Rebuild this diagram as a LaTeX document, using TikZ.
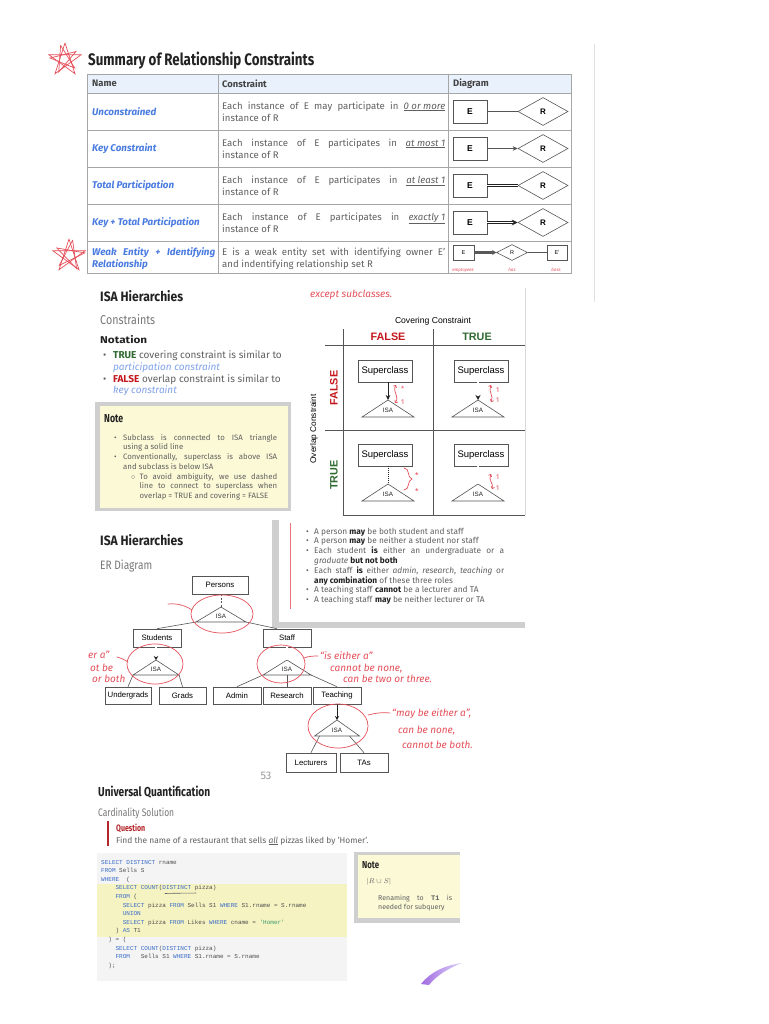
\documentclass[tikz,border=0pt]{standalone}
\usepackage{fontspec}
\setmainfont{Fira Sans}
\newfontfamily\arialf{Liberation Sans}
\setmonofont{Liberation Mono}
\usepackage{graphicx}
\usepackage{xcolor}
\usepackage{tikz}
\usetikzlibrary{arrows.meta,shapes.geometric}
\definecolor{Ink}{HTML}{222222}
\definecolor{Txt}{HTML}{606060}
\definecolor{Sub}{HTML}{777777}
\definecolor{TblLine}{HTML}{A6A6A6}
\definecolor{HdrFill}{HTML}{E8F1FC}
\definecolor{NameBlue}{HTML}{4A7BE0}
\definecolor{LinkBlue}{HTML}{7FA2EA}
\definecolor{BoxLine}{HTML}{555555}
\definecolor{TrueGreen}{HTML}{2F6A31}
\definecolor{FalseRed}{HTML}{C4161C}
\definecolor{Pen}{HTML}{E5505A}
\definecolor{NoteYel}{HTML}{FBF9D6}
\definecolor{NoteFrame}{HTML}{CFCFCF}
\definecolor{CodeBg}{HTML}{F4F4F4}
\definecolor{CodeHl}{HTML}{F6F3C2}
\definecolor{KwBlue}{HTML}{3A6CC8}
\definecolor{StrGreen}{HTML}{3C9A6E}
\definecolor{QRed}{HTML}{B3262B}
\definecolor{SwA}{HTML}{A36BE0}
\definecolor{SwB}{HTML}{DAD4FA}
\newcommand{\kw}[1]{\textcolor{KwBlue}{#1}}
% ISA triangle: name, apex x, apex y, half base, height
\newcommand{\isatri}[5]{%
  \coordinate (#1-t) at (#2,#3);
  \coordinate (#1-l) at ({#2-#4},{#3+#5});
  \coordinate (#1-r) at ({#2+#4},{#3+#5});
  \coordinate (#1-b) at (#2,{#3+#5});
  \draw[isaline] (#1-t) -- (#1-l) -- (#1-r) -- cycle;
  \node[isatxt] (#1) at (#2,{#3+0.62*#5}) {ISA};
}

\begin{document}
\begin{tikzpicture}[x=1pt,y=-1pt,
  tbl/.style={draw=TblLine,line width=0.7pt},
  ent/.style={draw=BoxLine,fill=white,line width=0.6pt,inner sep=0pt,minimum width=48pt,minimum height=18pt,font=\arialf\fontsize{7.8}{9}\selectfont},
  sup/.style={ent,minimum width=54pt,minimum height=22pt,font=\arialf\fontsize{9.5}{10}\selectfont},
  rel/.style={diamond,draw=BoxLine,fill=white,line width=0.6pt,inner sep=0pt,minimum width=50pt,minimum height=28pt,font=\arialf\bfseries\fontsize{8}{9}\selectfont},
  isaline/.style={draw=BoxLine,line width=0.6pt},
  isatxt/.style={inner sep=0pt,font=\arialf\fontsize{6.3}{7}\selectfont,text=Ink},
  tot/.style={draw=Ink,double=white,double distance=1.1pt,line width=0.8pt},
  hand/.style={draw=Pen,line width=0.7pt,line cap=round},
  handtxt/.style={text=Pen,inner sep=0pt,anchor=base west,font=\itshape\fontsize{10}{10}\selectfont},
  txt/.style={inner sep=0pt,anchor=base west,text=Txt},
  ttl/.style={inner sep=0pt,anchor=base west,text=Ink},
  nm/.style={inner sep=0pt,anchor=west,align=left,text=NameBlue,font=\bfseries\itshape\fontsize{9.8}{12}\selectfont},
  cons/.style={inner sep=0pt,anchor=west,align=left,text=Txt,font=\fontsize{9.6}{12}\selectfont},
  code/.style={inner sep=0pt,anchor=base west,text=Ink!80,font=\ttfamily\fontsize{6}{6}\selectfont}]
  \fill[white] (0,0) rectangle (768,1024);
  \useasboundingbox (0,0) rectangle (768,1024);

  % ---------- summary table ----------
  \draw[hand] plot[samples at={0,...,5}] ({65+17*cos(90+144*\x)},{60-17*sin(90+144*\x)});
  \draw[hand] plot[samples at={0,...,5}] ({64+14*cos(104+144*\x)},{59-14*sin(104+144*\x)});
  \node[ttl] (tSum) at (88,66) {\resizebox{226pt}{13.5pt}{\bfseries Summary of Relationship Constraints}};
  \fill[HdrFill] (87,74) rectangle (571,93);
  \foreach \yy in {93,130,167,204,241}
    \draw[tbl] (87,\yy) -- (571,\yy);
  \draw[tbl] (87,74) rectangle (571,273);
  \draw[tbl] (218,74) -- (218,273);
  \draw[tbl] (448,74) -- (448,273);
  \node[inner sep=0pt,anchor=west,font=\bfseries\fontsize{9.4}{10}\selectfont,text=Ink!85] (hName) at (92,83.5) {Name};
  \node[inner sep=0pt,anchor=west,font=\bfseries\fontsize{9.4}{10}\selectfont,text=Ink!85] (hCons) at (222,83.5) {Constraint};
  \node[inner sep=0pt,anchor=west,font=\bfseries\fontsize{9.4}{10}\selectfont,text=Ink!85] (hDiag) at (453,83.5) {Diagram};
  \foreach \i/\yy/\nmt/\vb/\amt in {
      1/111.5/Unconstrained/may participate in/0 or more,
      2/148.5/Key Constraint/participates in/at most 1,
      3/185.5/Total Participation/participates in/at least 1,
      4/222.5/Key + Total Participation/participates in/exactly 1} {
    \node[nm] (nm\i) at (92,\yy) {\nmt};
    \node[cons] (cs\i) at (222,\yy) {\makebox[223pt][s]{Each instance of E \vb{} \underline{\textit{\amt}}}\\instance of R};
    \node[ent,minimum width=34pt,minimum height=23pt,font=\arialf\bfseries\fontsize{8.5}{9}\selectfont] (e\i) at (470,\yy) {E};
    \node[rel] (r\i) at (543,\yy) {R};
  }
  \draw[BoxLine,line width=0.6pt] (e1) -- (r1);
  \draw[BoxLine,line width=0.6pt,-{Stealth[length=5pt,width=4.5pt]}] (e2) -- (r2);
  \draw[tot] (e3) -- (r3);
  \draw[tot,-{Stealth[length=6pt,width=6pt]}] (e4) -- (r4);
  \node[nm] (nm5) at (92,258.5) {\makebox[123pt][s]{Weak Entity + Identifying}\\Relationship};
  \node[cons] (cs5) at (222,258.5) {\makebox[223pt][s]{E is a weak entity set with identifying owner E'}\\and indentifying relationship set R};
  \node[ent,minimum width=21pt,minimum height=15pt,font=\arialf\fontsize{5.5}{6}\selectfont] (ew) at (463.5,252.5) {E};
  \node[rel,minimum width=31pt,minimum height=16pt,font=\arialf\fontsize{5.5}{6}\selectfont] (rw) at (512,252.5) {R};
  \node[ent,minimum width=20pt,minimum height=15pt,font=\arialf\fontsize{5.5}{6}\selectfont] (eo) at (557,252.5) {E'};
  \draw[Ink!75,line width=2.2pt,-{Stealth[length=4pt,width=5pt]}] (ew) -- (rw);
  \draw[BoxLine,line width=0.5pt] (rw) -- (eo);
  \node[text=Pen,inner sep=0pt,font=\itshape\fontsize{4.5}{5}\selectfont] (hEmp) at (463,270) {employees};
  \node[text=Pen,inner sep=0pt,font=\itshape\fontsize{4.5}{5}\selectfont] (hHas) at (512,270) {has};
  \node[text=Pen,inner sep=0pt,font=\itshape\fontsize{4.5}{5}\selectfont] (hBoss) at (556,270) {boss};
  \draw[hand] plot[samples at={0,...,5}] ({69+17*cos(90+144*\x)},{256-17*sin(90+144*\x)});
  \draw[hand] plot[samples at={0,...,5}] ({70+15*cos(80+144*\x)},{255-15*sin(80+144*\x)});
  \draw[black!12,line width=0.7pt] (594,44) -- (594,302);

  % ---------- ISA constraints ----------
  \node[ttl] (tIsa) at (100,301) {\resizebox{83pt}{11pt}{\bfseries ISA Hierarchies}};
  \node[ttl,text=Sub] (tCons) at (100,324) {\resizebox{55pt}{10pt}{Constraints}};
  \node[ttl] (tNot) at (100,343) {\resizebox{47pt}{8pt}{\bfseries Notation}};
  \begin{scope}[font=\fontsize{10}{10}\selectfont]
    \node[txt] (nb1) at (103,358) {\textbullet};
    \node[txt] (n1) at (113,358) {\textbf{\textcolor{TrueGreen}{TRUE}} covering constraint is similar to};
    \node[txt,text=LinkBlue] (n2) at (113,370) {\textit{participation constraint}};
    \node[txt] (nb3) at (103,382) {\textbullet};
    \node[txt] (n3) at (113,382) {\textbf{\textcolor{FalseRed}{FALSE}} overlap constraint is similar to};
    \node[txt,text=LinkBlue] (n4) at (113,393.5) {\textit{key constraint}};
  \end{scope}
  \fill[NoteFrame] (95,402) rectangle (291,511);
  \fill[NoteYel] (100,406) rectangle (288,508);
  \node[ttl] (tNote) at (104,422) {\resizebox{19pt}{8pt}{\bfseries Note}};
  \begin{scope}[font=\fontsize{7.8}{8}\selectfont]
    \node[txt] (kb1) at (114,440) {\textbullet};
    \node[txt] (k1) at (123,440) {\makebox[154pt][s]{Subclass is connected to ISA triangle}};
    \node[txt] (k2) at (123,449.5) {using a solid line};
    \node[txt] (kb3) at (114,459.5) {\textbullet};
    \node[txt] (k3) at (123,459.5) {\makebox[154pt][s]{Conventionally, superclass is above ISA}};
    \node[txt] (k4) at (123,469) {and subclass is below ISA};
    \node[txt] (kb5) at (131,479) {$\circ$};
    \node[txt] (k5) at (139.5,479) {\makebox[137.5pt][s]{To avoid ambiguity, we use dashed}};
    \node[txt] (k6) at (139.5,488.5) {\makebox[137.5pt][s]{line to connect to superclass when}};
    \node[txt] (k7) at (139.5,498) {overlap = TRUE and covering = FALSE};
  \end{scope}

  % covering / overlap matrix
  \node[handtxt] (hExc) at (310,297) {except subclasses.};
  \draw[black!15,line width=0.6pt] (525,288) -- (525,515);
  \node[inner sep=0pt,font=\arialf\fontsize{8.6}{9}\selectfont] (cov) at (433,321) {Covering Constraint};
  \draw[BoxLine,line width=0.8pt] (343,329) -- (343,515);
  \draw[BoxLine,line width=0.8pt] (433,329) -- (433,515);
  \draw[BoxLine,line width=0.8pt] (325,345) -- (525,345);
  \draw[BoxLine,line width=0.8pt] (325,430) -- (525,430);
  \draw[BoxLine,line width=0.8pt] (343,515) -- (525,515);
  \node[inner sep=0pt,text=FalseRed,font=\arialf\bfseries\fontsize{10.8}{11}\selectfont] (cF) at (388,337) {FALSE};
  \node[inner sep=0pt,text=TrueGreen,font=\arialf\bfseries\fontsize{10.8}{11}\selectfont] (cT) at (477,337) {TRUE};
  \node[inner sep=0pt,rotate=90,text=FalseRed,font=\arialf\bfseries\fontsize{10.8}{11}\selectfont] (oF) at (334,388) {FALSE};
  \node[inner sep=0pt,rotate=90,text=TrueGreen,font=\arialf\bfseries\fontsize{10.8}{11}\selectfont] (oT) at (334,475) {TRUE};
  \node[inner sep=0pt,rotate=90,font=\arialf\fontsize{8.3}{9}\selectfont] (ovl) at (314,429) {Overlap Constraint};
  \node[sup] (supFF) at (385,371) {Superclass};
  \isatri{isaFF}{388}{400}{26}{17}
  \draw[Ink,line width=0.6pt,-{Stealth[length=5pt,width=4.5pt]}] (isaFF-t |- supFF.south) -- (isaFF-t);
  \node[sup] (supFT) at (481,371) {Superclass};
  \isatri{isaFT}{478}{400}{26}{17}
  \draw[tot,-{Stealth[length=5pt,width=5pt]}] (isaFT-t |- supFT.south) -- (isaFT-t);
  \node[sup] (supTF) at (385,455) {Superclass};
  \isatri{isaTF}{388}{484}{26}{17}
  \draw[Ink,line width=0.6pt,dash pattern=on 1pt off 1pt] (isaTF-t |- supTF.south) -- (isaTF-t);
  \node[sup] (supTT) at (481,455) {Superclass};
  \isatri{isaTT}{478}{484}{26}{17}
  \draw[tot] (isaTT-t |- supTT.south) -- (isaTT-t);
  % pen marks in the cells
  \draw[hand,{Straight Barb[length=1.8pt]}-{Straight Barb[length=1.8pt]}] (396,385) .. controls (392,392) and (400,396) .. (395,403);
  \node[handtxt,font=\fontsize{7}{7}\selectfont] (mFF1) at (401,391) {*};
  \node[handtxt,font=\fontsize{7}{7}\selectfont] (mFF2) at (401,404) {1};
  \draw[hand,{Straight Barb[length=1.8pt]}-{Straight Barb[length=1.8pt]}] (491,385) .. controls (488,392) and (494,396) .. (491,402);
  \node[handtxt,font=\fontsize{7}{7}\selectfont] (mFT1) at (496,392) {1};
  \node[handtxt,font=\fontsize{7}{7}\selectfont] (mFT2) at (496,402) {1};
  \draw[hand] (404,468) .. controls (410,468) and (407,478) .. (412,479) .. controls (407,480) and (410,490) .. (404,490);
  \node[handtxt,font=\fontsize{8}{8}\selectfont] (mTF1) at (415,478) {*};
  \node[handtxt,font=\fontsize{8}{8}\selectfont] (mTF2) at (415,494) {*};
  \draw[hand,{Straight Barb[length=1.8pt]}-{Straight Barb[length=1.8pt]}] (491,474) .. controls (488,480) and (494,484) .. (492,489);
  \node[handtxt,font=\fontsize{7}{7}\selectfont] (mTT1) at (496,479) {1};
  \node[handtxt,font=\fontsize{7}{7}\selectfont] (mTT2) at (496,490) {1};

  % ---------- ER diagram ----------
  \fill[NoteFrame] (272,520) rectangle (279,628);
  \fill[NoteFrame] (272,622) rectangle (525,628);
  \draw[Pen!80,line width=0.8pt] (290,523) -- (290,609);
  \begin{scope}[font=\fontsize{8.3}{8}\selectfont]
    \foreach \yy [count=\k] in {534,543.8,553.6,573.2,592.8,602.6}
      \node[txt] (pb\k) at (306,\yy) {\textbullet};
    \node[txt] (p1) at (314,534) {A person \textbf{\textcolor{Ink}{may}} be both student and staff};
    \node[txt] (p2) at (314,543.8) {A person \textbf{\textcolor{Ink}{may}} be neither a student nor staff};
    \node[txt] (p3) at (314,553.6) {\makebox[190pt][s]{Each student \textbf{\textcolor{Ink}{is}} either an undergraduate or a}};
    \node[txt] (p4) at (314,563.4) {\textit{graduate} \textbf{\textcolor{Ink}{but not both}}};
    \node[txt] (p5) at (314,573.2) {\makebox[190pt][s]{Each staff \textbf{\textcolor{Ink}{is}} either \textit{admin}, \textit{research}, \textit{teaching} or}};
    \node[txt] (p6) at (314,583) {\textbf{\textcolor{Ink}{any combination}} of these three roles};
    \node[txt] (p7) at (314,592.8) {A teaching staff \textbf{\textcolor{Ink}{cannot}} be a lecturer and TA};
    \node[txt] (p8) at (314,602.6) {A teaching staff \textbf{\textcolor{Ink}{may}} be neither lecturer or TA};
  \end{scope}
  \node[ttl] (tIsa2) at (100,545) {\resizebox{83pt}{11pt}{\bfseries ISA Hierarchies}};
  \node[ttl,text=Sub] (tEr) at (100,569) {\resizebox{52pt}{9.5pt}{ER Diagram}};

  \node[ent,minimum width=56pt] (persons) at (220,585) {Persons};
  \isatri{isaP}{221}{607}{25}{15}
  \node[ent] (students) at (157,638) {Students};
  \node[ent] (staff) at (287,638) {Staff};
  \draw[BoxLine,line width=0.6pt,dash pattern=on 2pt off 1.5pt] (isaP-t |- persons.south) -- (isaP-t);
  \draw[isaline] (isaP-l) -- (students.north);
  \draw[isaline] (isaP-r) -- ([xshift=-10pt]staff.north);

  \isatri{isaS}{156}{660}{23}{15}
  \node[ent,minimum width=46pt,minimum height=17pt] (ugrads) at (128,695.5) {Undergrads};
  \node[ent,minimum width=47pt,minimum height=17pt] (grads) at (182.5,695.5) {Grads};
  \draw[tot,-{Stealth[length=4pt,width=4.5pt]}] (isaS-t |- students.south) -- (isaS-t);
  \draw[isaline] (isaS-l) -- (ugrads.north);
  \draw[isaline] (isaS-r) -- (grads.north);

  \isatri{isaF}{287}{660}{24}{15}
  \node[ent,minimum height=17pt] (admin) at (237,695.5) {Admin};
  \node[ent,minimum height=17pt] (research) at (287,695.5) {Research};
  \node[ent,minimum height=17pt] (teaching) at (337,695.5) {Teaching};
  \draw[tot] (isaF-t |- staff.south) -- (isaF-t);
  \draw[isaline] (isaF-l) -- (admin.north);
  \draw[isaline] (isaF-b) -- (research.north);
  \draw[isaline] (isaF-r) -- (teaching.north);

  \isatri{isaT}{337}{720}{22.5}{16}
  \node[ent,minimum width=50pt,minimum height=19pt] (lect) at (311,762.5) {Lecturers};
  \node[ent,minimum height=19pt] (tas) at (364,762.5) {TAs};
  \draw[Ink,line width=0.6pt,-{Stealth[length=4pt,width=4pt]}] (isaT-t |- teaching.south) -- (isaT-t);
  \draw[isaline] ([xshift=5pt]isaT-l) -- (lect.north);
  \draw[isaline] ([xshift=-10pt]isaT-r) -- (tas.north);
  \node[inner sep=0pt,text=black!40,font=\fontsize{11}{11}\selectfont] (pg) at (266,776) {53};

  % pen marks on the ER diagram
  \draw[hand] (222,614) ellipse [x radius=31,y radius=19];
  \draw[hand] (168,604) .. controls (178,603) and (186,606) .. (192,610);
  \draw[hand] (155,664) ellipse [x radius=28,y radius=20];
  \draw[hand] (117,657) .. controls (121,658) and (125,660) .. (128,662);
  \node[handtxt] (hS1) at (88,658) {er a”};
  \node[handtxt] (hS2) at (90,671) {ot be};
  \node[handtxt] (hS3) at (92,682) {or both};
  \draw[hand] (281,664) ellipse [x radius=24,y radius=19];
  \draw[hand] (304,658) .. controls (309,656) and (314,656) .. (318,656);
  \node[handtxt] (hF1) at (320,659) {“is either a”};
  \node[handtxt] (hF2) at (330,671) {cannot be none,};
  \node[handtxt] (hF3) at (343,682) {can be two or three.};
  \draw[hand] (338,726) ellipse [x radius=30,y radius=22];
  \draw[hand] (368,715) .. controls (376,713) and (384,712) .. (390,713);
  \node[handtxt] (hT1) at (392,716) {“may be either a”,};
  \node[handtxt] (hT2) at (398,733) {can be none,};
  \node[handtxt] (hT3) at (402,748) {cannot be both.};

  % ---------- universal quantification ----------
  \node[ttl] (tUq) at (98,796) {\resizebox{112pt}{10.5pt}{\bfseries Universal Quantification}};
  \node[ttl,text=Sub] (tCard) at (98,816) {\resizebox{76pt}{8.5pt}{Cardinality Solution}};
  \draw[QRed,line width=1.2pt] (108,821) -- (108,846);
  \node[ttl,text=QRed] (tQ) at (116,831) {\resizebox{29pt}{7.5pt}{\bfseries Question}};
  \node[txt,font=\fontsize{8.4}{9}\selectfont] (qTxt) at (116,843) {Find the name of a restaurant that sells \underline{\textit{all}} pizzas liked by 'Homer'.};
  \fill[CodeBg] (97,853) rectangle (347,981);
  \fill[CodeHl] (97,884) rectangle (347,937);
  \foreach \ln/\ind/\txt in {
      1/0/{\kw{SELECT} \kw{DISTINCT} rname},
      2/0/{\kw{FROM}~Sells S},
      3/0/{\kw{WHERE}~~(},
      4/4/{\kw{SELECT} \kw{COUNT}(\kw{DISTINCT} pizza)},
      5/4/{\kw{FROM} (},
      6/6/{\kw{SELECT} pizza \kw{FROM} Sells S1 \kw{WHERE} S1.rname = S.rname},
      7/6/{\kw{UNION}},
      8/6/{\kw{SELECT} pizza \kw{FROM} Likes \kw{WHERE} cname = \textcolor{StrGreen}{'Homer'}},
      9/4/{) \kw{AS} T1},
      10/2/{) = (},
      11/4/{\kw{SELECT} \kw{COUNT}(\kw{DISTINCT} pizza)},
      12/4/{\kw{FROM}~~~Sells S1 \kw{WHERE} S1.rname = S.rname},
      13/2/{);}}
    \node[code] (c\ln) at ({101+3.6*\ind},{855.4+8.6*\ln}) {\txt};
  \draw[Ink!70,line width=0.6pt,line cap=round] (165,893.5) .. controls (178,893) and (188,893.3) .. (196,893);
  \fill[NoteFrame] (354,852) rectangle (460,923);
  \fill[NoteYel] (358,855) rectangle (460,918);
  \node[ttl] (tNote2) at (362,868) {\resizebox{17pt}{7pt}{\bfseries Note}};
  \node[txt,font=\fontsize{7}{8}\selectfont] (ru) at (366,883) {$|R\cup S|$};
  \node[txt,font=\fontsize{7}{8}\selectfont] (rn1) at (378,900) {\makebox[74pt][s]{Renaming to \texttt{\textbf{T1}} is}};
  \node[txt,font=\fontsize{7}{8}\selectfont] (rn2) at (378,909.5) {needed for subquery};
  \shade[left color=SwA,right color=SwB] (421,984) .. controls (430,972) and (446,965) .. (462,963) .. controls (449,968) and (437,975) .. (429,985) -- cycle;
\end{tikzpicture}
\end{document}
